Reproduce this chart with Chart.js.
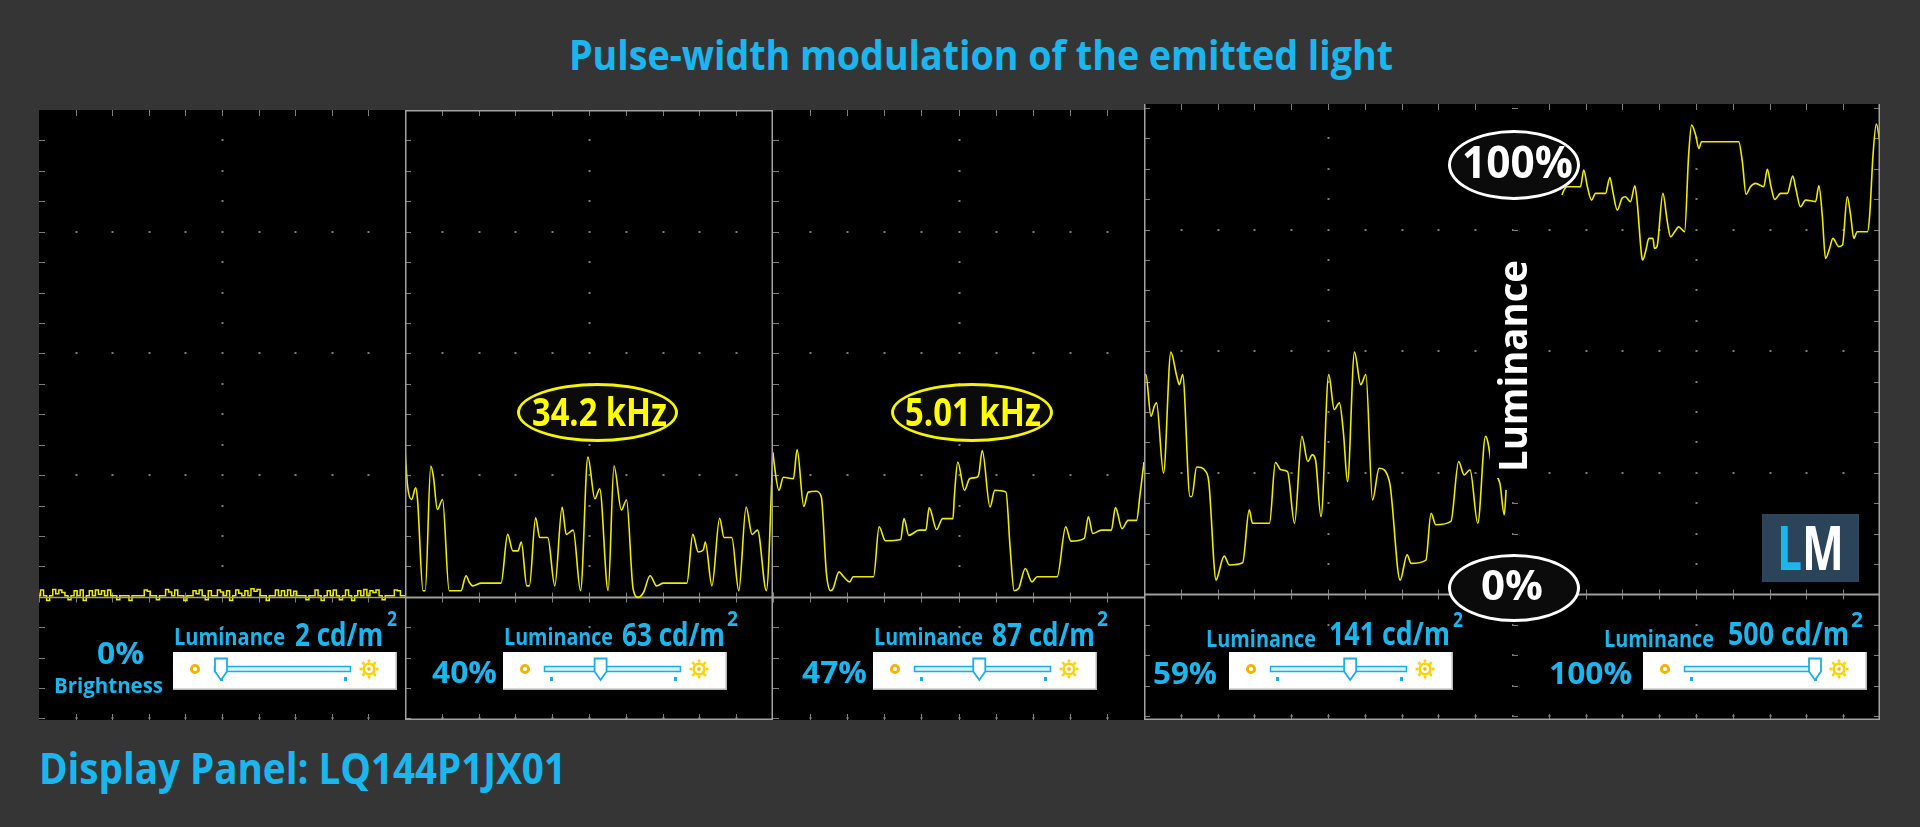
<!DOCTYPE html>
<html>
<head>
<meta charset="utf-8">
<script src="https://cdn.jsdelivr.net/npm/chart.js@4.4.1/dist/chart.umd.min.js"></script>
<style>
html, body { margin: 0; padding: 0; }
body { width: 1920px; height: 827px; background: #353535; position: relative; overflow: hidden; font-family: "Open Sans", sans-serif; }
.panel { position: absolute; background: #000; }
.panel canvas { display: block; }
.oval { position: absolute; border-radius: 50%; box-sizing: border-box; background: #0b0b0b; }
.txt { position: absolute; white-space: nowrap; line-height: 1; transform-origin: 0 0; }
</style>
</head>
<body>
<script>
// brightness setting and measured luminance for each capture
const brightness = [0, 40, 47, 59, 100];
const luminance = [2, 63, 87, 141, 500];
const frequencies = ['34.2 kHz', '5.01 kHz'];

// traces, x in horizontal divisions, y in minor rows above the zero line
// 0% : samples every 1/12 division
const trace0Y = [0.03, 0.22, 0.03, -0.12, 0.03, 0.24, 0.1, 0.22, 0.14, 0.03, -0.1, 0.03, 0.2, 0.03, 0.22, -0.12,
    0.03, 0.2, 0.03, 0.22, 0.08, 0.2, 0.03, 0.22, 0.03, 0.03, -0.1, 0.03, 0.03, 0.03, -0.12, 0.03, 0.03, 0.03, 0.03,
    0.22, 0.18, 0.03, 0.03, -0.1, 0.03, 0.03, 0.24, 0.16, 0.03, 0.22, 0.03, 0.03, -0.12, 0.03, 0.03, 0.2, 0.1, 0.22,
    0.03, -0.1, 0.2, 0.03, 0.03, 0.22, 0.16, 0.03, 0.2, -0.12, 0.03, 0.22, 0.12, 0.03, 0.2, 0.03, 0.26, 0.18, 0.24,
    0.03, 0.03, -0.12, 0.03, 0.03, 0.22, 0.03, 0.2, 0.03, 0.22, 0.03, 0.18, 0.03, 0.03, 0.03, -0.1, 0.03, 0.03, 0.22,
    0.03, -0.12, 0.03, 0.2, 0.03, 0.22, 0.03, -0.1, 0.03, 0.22, 0.03, -0.12, 0.03, 0.2, 0.03, 0.24, 0.03, 0.2, 0.14,
    0.22, 0.03, -0.1, 0.03, 0.03, 0.03, 0.22, 0.2, 0.03, 0.03];

const trace40X = [0, 0.07, 0.18, 0.29, 0.34, 0.49, 0.55, 0.70, 0.77, 0.88, 1.02, 1.20, 1.52, 1.66, 1.75, 1.84, 2.07,
    2.61, 2.79, 2.93, 3.07, 3.16, 3.31, 3.38, 3.55, 3.66, 3.88, 4.07, 4.27, 4.38, 4.57, 4.77, 4.97, 5.16, 5.29, 5.52,
    5.68, 5.88, 6.02, 6.20, 6.34, 6.48, 6.66, 6.84, 7.02, 7.66, 7.82, 7.97, 8.11, 8.16, 8.34, 8.55, 8.67, 8.88, 9.07,
    9.27, 9.43, 9.58, 9.82, 10.0];
const trace40Y = [4.84, 3.64, 3.2, 3.58, 3.2, 0.2, 0.2, 4.3, 3.97, 2.87, 3.2, 0.2, 0.2, 0.69, 0.47, 0.36, 0.45,
    0.45, 2.05, 1.51, 1.51, 1.8, 0.36, 0.36, 2.6, 1.95, 1.95, 0.36, 2.95, 2.05, 2.19, 0.2, 4.59, 3.22, 3.55, 0.2,
    4.3, 2.85, 3.18, 0.25, -0.02, 0.14, 0.69, 0.36, 0.45, 0.45, 2.05, 1.47, 1.55, 1.8, 0.36, 2.58, 1.95, 1.95, 0.2,
    2.95, 2.05, 2.19, 0.2, 4.84];

const trace47X = [0, 0.03, 0.16, 0.28, 0.55, 0.65, 0.83, 0.95, 1.16, 1.30, 1.44, 1.55, 1.62, 1.78, 1.89, 2.07, 2.16,
    2.71, 2.86, 3.03, 3.44, 3.53, 3.66, 3.94, 4.12, 4.21, 4.41, 4.57, 4.85, 4.89, 4.98, 5.16, 5.30, 5.50, 5.55, 5.64,
    5.85, 5.98, 6.28, 6.39, 6.50, 6.62, 6.80, 6.98, 7.12, 7.66, 7.89, 8.03, 8.39, 8.50, 8.62, 8.85, 9.12, 9.23, 9.41,
    9.57, 9.80, 9.89, 10.0];
const trace47Y = [4.75, 4.4, 3.5, 3.93, 3.88, 4.84, 2.97, 3.44, 3.47, 3.3, 0.77, 0.2, 0.27, 0.82, 0.68, 0.49, 0.66,
    0.66, 2.3, 1.84, 1.88, 2.57, 2.02, 2.19, 2.19, 2.93, 2.21, 2.57, 2.57, 3.33, 4.43, 3.5, 3.88, 3.93, 4.04, 4.81,
    2.95, 3.5, 3.44, 1.64, 0.2, 0.27, 0.93, 0.49, 0.66, 0.66, 2.3, 1.83, 1.92, 2.63, 2.08, 2.19, 2.19, 2.93, 2.24,
    2.51, 2.51, 3.33, 4.43];

const trace59X = [0, 0.02, 0.05, 0.19, 0.28, 0.34, 0.53, 0.73, 0.89, 0.96, 1.05, 1.25, 1.30, 1.43, 1.68, 1.76, 1.96,
    2.0, 2.18, 2.32, 2.68, 2.86, 2.95, 3.41, 3.57, 3.72, 3.90, 4.09, 4.29, 4.45, 4.57, 4.66, 4.81, 5.02, 5.17, 5.31,
    5.42, 5.53, 5.72, 5.89, 6.03, 6.21, 6.39, 6.67, 6.96, 7.15, 7.26, 7.66, 7.80, 7.93, 8.34, 8.55, 8.70, 8.86, 9.07,
    9.28, 9.34, 9.47, 9.67, 9.79, 9.84];
const trace59Y = [4.0, 7.23, 7.23, 5.86, 6.19, 6.3, 3.99, 7.97, 7.18, 6.9, 7.23, 3.22, 3.22, 4.19, 4.04, 3.71, 0.47,
    0.58, 1.26, 0.97, 1.04, 2.78, 2.34, 2.34, 4.34, 4.1, 4.04, 2.34, 5.2, 4.37, 4.59, 4.43, 2.56, 7.23, 6.08, 6.3,
    5.31, 3.71, 7.97, 6.9, 7.23, 3.11, 4.15, 3.71, 0.47, 1.3, 1.02, 1.13, 2.67, 2.29, 2.4, 4.37, 3.93, 4.1, 2.34,
    5.2, 5.03, 4.1, 3.66, 2.62, 3.44];

const trace100X = [1.36, 1.41, 1.50, 1.86, 1.95, 2.04, 2.16, 2.27, 2.54, 2.66, 2.74, 2.86, 2.99, 3.08, 3.22, 3.34,
    3.40, 3.52, 3.55, 3.64, 3.72, 3.83, 3.87, 3.94, 4.10, 4.22, 4.31, 4.42, 4.53, 4.69, 4.80, 4.88, 4.99, 5.08, 5.15,
    6.16, 6.26, 6.36, 6.48, 6.62, 6.84, 6.94, 7.03, 7.14, 7.30, 7.48, 7.63, 7.71, 7.84, 7.98, 8.25, 8.34, 8.43, 8.52,
    8.63, 8.72, 8.88, 8.98, 9.11, 9.20, 9.29, 9.38, 9.66, 9.72, 9.81, 9.90, 9.99];
const trace100Y = [13.14, 13.3, 13.41, 13.41, 13.96, 13.46, 12.97, 13.19, 13.19, 13.71, 13.25, 12.64, 13.03, 13.08,
    12.92, 13.44, 12.92, 11.16, 11.0, 11.33, 11.71, 11.71, 11.38, 11.44, 13.19, 12.26, 11.76, 11.93, 12.09, 11.93,
    14.45, 15.44, 15.11, 14.67, 14.89, 14.89, 14.23, 13.16, 13.41, 13.52, 13.41, 13.98, 13.46, 12.99, 13.19, 13.19,
    13.76, 13.36, 12.75, 12.97, 12.92, 13.44, 12.48, 11.05, 11.38, 11.71, 11.44, 11.49, 13.08, 12.48, 11.71, 11.93,
    11.93, 12.48, 14.45, 15.47, 14.94];

const CYAN = '#1bb6ee';
const YELLOW = '#ecec00';
const GRID = '#7c7c7c';

// oscilloscope screen: ticks, dots, zero line, borders
const scopeGrid = {
    id: 'scopeGrid',
    beforeDatasetsDraw(chart, args, o) {
        const { ctx, chartArea: a, scales: { x, y } } = chart;
        const mid = o.cols / 2;
        ctx.save();
        ctx.strokeStyle = GRID;
        ctx.fillStyle = GRID;
        ctx.lineWidth = 1;
        const y0 = Math.round(y.getPixelForValue(0)) + 0.5;
        const rMin = Math.ceil(y.min), rMax = Math.floor(y.max);

        for (let r = rMin; r <= rMax; r++) {
            const py = Math.round(y.getPixelForValue(r)) + 0.5;
            if (r === 0 || py < a.top + 3) continue;
            ctx.beginPath();
            ctx.moveTo(a.left, py); ctx.lineTo(a.left + 6, py);
            if (o.rightTicks) { ctx.moveTo(a.right - 6, py); ctx.lineTo(a.right, py); }
            ctx.stroke();
        }

        for (let c = 0; c <= o.cols; c++) {
            const px = Math.round(x.getPixelForValue(c)) + 0.5;
            ctx.beginPath();
            if (c > 0 && c < o.cols) {
                ctx.moveTo(px, a.top); ctx.lineTo(px, a.top + 6);
                ctx.moveTo(px, a.bottom - 6); ctx.lineTo(px, a.bottom);
            }
            ctx.moveTo(px, y0 - 5); ctx.lineTo(px, y0 + 5);
            ctx.stroke();

            const edge = o.edgeDots && c === 0;
            if ((c === 0 && !edge) || c === o.cols) continue;
            for (let r = rMin; r <= rMax; r++) {
                if (r === 0) continue;
                if (r % 4 !== 0 && c !== mid && !edge) continue;
                const py = Math.round(y.getPixelForValue(r));
                if (py < a.top + 8) continue;
                ctx.fillRect(px - 1, py - 1, 2, 2);
            }
        }
        if (!o.zeroOnTop) drawZero(chart, 2);
        ctx.restore();
    },
    afterDatasetsDraw(chart, args, o) {
        if (o.zeroOnTop) drawZero(chart, 1.5);
        const { ctx, chartArea: a } = chart;
        ctx.save();
        ctx.strokeStyle = '#a2a2a2';
        ctx.lineWidth = 1.5;
        ctx.beginPath();
        if (o.borders.includes('l')) { ctx.moveTo(a.left + 0.75, a.top); ctx.lineTo(a.left + 0.75, a.bottom); }
        if (o.borders.includes('r')) { ctx.moveTo(a.right - 0.75, a.top); ctx.lineTo(a.right - 0.75, a.bottom); }
        if (o.borders.includes('t')) { ctx.moveTo(a.left, a.top + 0.75); ctx.lineTo(a.right, a.top + 0.75); }
        if (o.borders.includes('b')) { ctx.moveTo(a.left, a.bottom - 0.75); ctx.lineTo(a.right, a.bottom - 0.75); }
        ctx.stroke();
        ctx.restore();
    }
};

function drawZero(chart, w) {
    const { ctx, chartArea: a, scales: { y } } = chart;
    const y0 = Math.round(y.getPixelForValue(0)) + 0.5;
    ctx.save();
    ctx.strokeStyle = '#9c9c9c';
    ctx.lineWidth = w;
    ctx.beginPath();
    ctx.moveTo(a.left, y0); ctx.lineTo(a.right, y0);
    ctx.stroke();
    ctx.restore();
}

function makeScope(left, top, width, height, yMin, yMax, points, grid, style) {
    const box = document.createElement('div');
    box.className = 'panel';
    box.style.cssText = `left:${left}px;top:${top}px;width:${width}px;height:${height}px;`;
    const cv = document.createElement('canvas');
    cv.width = width;
    cv.height = height;
    box.appendChild(cv);
    document.body.appendChild(box);

    return new Chart(cv.getContext('2d'), {
        type: 'line',
        data: {
            datasets: [Object.assign({
                data: points,
                borderColor: YELLOW,
                borderWidth: 1.6,
                pointRadius: 0,
                fill: false,
                cubicInterpolationMode: 'monotone'
            }, style)]
        },
        options: {
            responsive: false,
            animation: false,
            events: [],
            layout: { padding: 0 },
            plugins: {
                legend: { display: false },
                tooltip: { enabled: false },
                scopeGrid: Object.assign({ cols: 10, borders: '', rightTicks: false, edgeDots: false, zeroOnTop: false }, grid)
            },
            scales: {
                x: { type: 'linear', min: 0, max: 10, display: false },
                y: { type: 'linear', min: yMin, max: yMax, display: false }
            }
        },
        plugins: [scopeGrid]
    });
}

function pairs(xs, ys) {
    return xs.map((x, i) => ({ x: x, y: ys[i] }));
}

makeScope(39, 110, 366, 610, -4.05, 16, trace0Y.map((v, i) => ({ x: i / 12, y: v })), { zeroOnTop: true },
    { stepped: 'middle', borderWidth: 1.5, cubicInterpolationMode: 'default' });
makeScope(405, 110, 368, 610, -4.05, 16, pairs(trace40X, trace40Y), { borders: 'lrtb' });
makeScope(773, 110, 371, 610, -4.05, 16, pairs(trace47X, trace47Y), {});
makeScope(1144, 104, 368, 616, -4.13, 16.13, pairs(trace59X, trace59Y), { borders: 'lb' });
makeScope(1512, 104, 368, 616, -4.13, 16.13, pairs(trace100X, trace100Y), { borders: 'rb', rightTicks: true, edgeDots: true });

// ---- overlays ----
function put(text, x, capTop, w, size, color, weight) {
    const d = document.createElement('div');
    d.className = 'txt';
    d.textContent = text;
    d.style.left = x + 'px';
    d.style.top = (capTop - 0.174 * size) + 'px';
    d.style.font = `${weight || 700} ${size}px/1 "Open Sans", sans-serif`;
    d.style.color = color || CYAN;
    document.body.appendChild(d);
    const nat = d.getBoundingClientRect().width;
    d.style.transform = `scaleX(${w / nat})`;
    return d;
}

function oval(cx, cy, w, h, color) {
    const d = document.createElement('div');
    d.className = 'oval';
    d.style.cssText = `left:${cx - w / 2}px;top:${cy - h / 2}px;width:${w}px;height:${h}px;border:3px solid ${color};`;
    document.body.appendChild(d);
}

function slider(left, value) {
    const cx = 48 + value / 100 * 124;
    let rays = '';
    for (let k = 0; k < 8; k++) {
        rays += `<rect x="-1.3" y="-9.5" width="2.6" height="3" fill="#ffd200" transform="rotate(${k * 45})"/>`;
    }
    const svg = `<svg xmlns="http://www.w3.org/2000/svg" width="224" height="38" style="position:absolute;left:${left}px;top:652px">
        <rect x="0" y="0" width="224" height="38" fill="#fff"/>
        <path d="M0 37.25H223.25V0" stroke="#b4b4b4" stroke-width="1.5" fill="none"/>
        <circle cx="22" cy="17" r="3.6" fill="#fff" stroke="#f2b400" stroke-width="3"/>
        <rect x="41.5" y="14.5" width="136" height="5" fill="#d6f1fc" stroke="#1aaee6" stroke-width="1.5"/>
        <rect x="47" y="25" width="3" height="4" fill="#1aaee6"/>
        <rect x="171" y="25" width="3" height="4" fill="#1aaee6"/>
        <path d="M${cx - 6} 6.5h12v13l-6 8.5l-6 -8.5z" fill="#fff" stroke="#1aaee6" stroke-width="1.8"/>
        <g transform="translate(196 17)">${rays}
            <circle r="5.3" fill="#fff" stroke="#ffd200" stroke-width="2.6"/>
            <circle r="1.8" fill="#f2b400"/>
        </g>
    </svg>`;
    document.body.insertAdjacentHTML('beforeend', svg);
}

// title and footer
put('Pulse-width modulation of the emitted light', 569, 41, 824, 41, CYAN, 700);
put('Display Panel: LQ144P1JX01', 39, 753, 527, 43, CYAN, 700);

// frequency ellipses
oval(597.5, 412, 161, 59, '#f5f500');
oval(972, 412, 162, 59, '#f5f500');
put(frequencies[0], 532, 398, 135, 39, '#ffff00', 700);
put(frequencies[1], 905, 398, 136, 39, '#ffff00', 700);

// luminance axis label with its black backing
const back = document.createElement('div');
back.style.cssText = 'position:absolute;left:1490px;top:256px;width:42px;height:222px;background:#000;';
document.body.appendChild(back);
const axis = document.createElement('div');
axis.className = 'txt';
axis.textContent = 'Luminance';
axis.style.font = '700 39px/1 "Open Sans", sans-serif';
axis.style.color = '#fff';
axis.style.left = (1499 - 0.174 * 39) + 'px';
axis.style.top = '472px';
document.body.appendChild(axis);
axis.style.transform = `rotate(-90deg) scaleX(${212 / axis.getBoundingClientRect().width})`;

oval(1514, 165, 132, 70, '#ffffff');
oval(1514, 588, 132, 68, '#ffffff');
put('100%', 1462, 147, 111, 44, '#fff', 700);
put('0%', 1481, 570, 62, 42, '#fff', 700);

// LM logo
const lm = document.createElement('div');
lm.style.cssText = 'position:absolute;left:1762px;top:514px;width:97px;height:68px;background:#2c4459;';
document.body.appendChild(lm);
const lmText = put('LM', 1777, 527, 67, 60, '#fff', 700);
lmText.innerHTML = `<span style="color:${CYAN}">L</span>M`;

// brightness / luminance captions and sliders
const pctPos = [[97, 642, 47], [432, 661, 65], [802, 661, 65], [1153, 662, 64], [1549, 662, 83]];
const lumPos = [[174, 628, 111], [504, 628, 109], [874, 628, 109], [1206, 630, 110], [1604, 630, 110]];
const valPos = [[295, 624, 88], [622, 624, 103], [992, 624, 103], [1329, 623, 121], [1728, 623, 121]];
const supPos = [[387, 610, 10], [727, 610, 11], [1097, 610, 11], [1453, 611, 10], [1851, 611, 12]];
const sliderLeft = [173, 503, 873, 1229, 1643];

brightness.forEach((b, i) => {
    put(b + '%', pctPos[i][0], pctPos[i][1], pctPos[i][2], 31, CYAN, 700);
    put('Luminance', lumPos[i][0], lumPos[i][1], lumPos[i][2], 24, CYAN, 700);
    put(luminance[i] + ' cd/m', valPos[i][0], valPos[i][1], valPos[i][2], 32, CYAN, 700);
    put('2', supPos[i][0], supPos[i][1], supPos[i][2], 22, CYAN, 700);
    slider(sliderLeft[i], b);
});
put('Brightness', 54, 677, 109, 22, CYAN, 700);
</script>
</body>
</html>
